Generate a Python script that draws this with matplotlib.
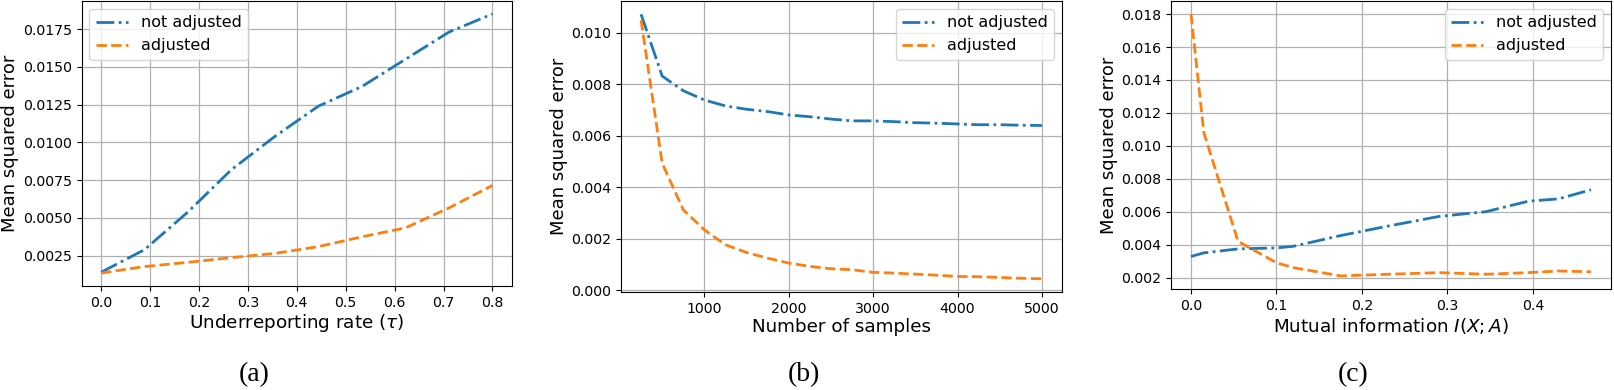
import numpy as np
import matplotlib
matplotlib.use("Agg")
import matplotlib.pyplot as plt

# ---- data ----
tau = [0.0, 0.0889, 0.1778, 0.2667, 0.3556, 0.4444, 0.5333, 0.6222, 0.7111, 0.8]
a_not_adj = [0.0014, 0.0029, 0.0054, 0.0082, 0.0104, 0.0124, 0.0137, 0.0155, 0.0173, 0.0185]
a_adj = [0.00135, 0.00178, 0.00206, 0.00237, 0.00265, 0.0031, 0.00375, 0.00434, 0.00566, 0.00715]

n_samples = [250, 500, 750, 1000, 1250, 1500, 1750, 2000, 2250, 2500,
             2750, 3000, 3250, 3500, 3750, 4000, 4250, 4500, 4750, 5000]
b_not_adj = [0.01072, 0.00832, 0.00775, 0.00739, 0.00716, 0.00703, 0.00694, 0.00681, 0.00674, 0.00665,
             0.00658, 0.00658, 0.00655, 0.00651, 0.00649, 0.00646, 0.00643, 0.00643, 0.00641, 0.0064]
b_adj = [0.01049, 0.00494, 0.00313, 0.00235, 0.00177, 0.00147, 0.00125, 0.00106, 0.00093, 0.00084,
         0.0008, 0.0007, 0.00067, 0.00063, 0.00059, 0.00054, 0.00053, 0.0005, 0.00047, 0.00045]

mutual_info = [0.0, 0.015, 0.055, 0.1, 0.12, 0.175, 0.23, 0.29, 0.345, 0.395, 0.43, 0.468]
c_not_adj = [0.00328, 0.0035, 0.00374, 0.0038, 0.0039, 0.00455, 0.00512, 0.00571, 0.006, 0.00664, 0.00678, 0.00733]
c_adj = [0.018, 0.0108, 0.0042, 0.0029, 0.0026, 0.0021, 0.0022, 0.0023, 0.0022, 0.0023, 0.0024, 0.00235]

labels = ["not adjusted", "adjusted"]
xlabels = [r"Underreporting rate ($\tau$)", "Number of samples", r"Mutual information $I(X;A)$"]
panel_labels = ["(a)", "(b)", "(c)"]

W, H = 1614, 390
fig = plt.figure(figsize=(W / 100, H / 100), dpi=100)

boxes = [(81.5, 512, 1, 286), (621, 1062, 1, 292), (1171, 1611, 1, 289)]
label_x = [254, 804, 1353]
legend_loc = ["upper left", "upper right", "upper right"]
datasets = [(tau, a_not_adj, a_adj), (n_samples, b_not_adj, b_adj), (mutual_info, c_not_adj, c_adj)]

for i, ((l, r, t, b), (x, y1, y2)) in enumerate(zip(boxes, datasets)):
    ax = fig.add_axes([l / W, 1 - b / H, (r - l) / W, (b - t) / H])
    ax.plot(x, y1, linestyle="-.", color="#1f77b4", lw=2, label=labels[0])
    ax.plot(x, y2, linestyle="--", color="#ff7f0e", lw=2, label=labels[1])
    ax.grid(True, color="#b0b0b0", lw=0.9)
    ax.tick_params(labelsize=10.2)
    ax.set_xlabel(xlabels[i], fontsize=13.2, labelpad=2)
    ax.set_ylabel("Mean squared error", fontsize=13.0, labelpad=2.5)
    ax.legend(loc=legend_loc[i], fontsize=11.5)
    if i == 0:
        ax.set_xticks([0.0, 0.1, 0.2, 0.3, 0.4, 0.5, 0.6, 0.7, 0.8])
    fig.text(label_x[i] / W, 1 - 375 / H, panel_labels[i], ha="center", va="center",
             fontsize=20, family="Liberation Serif")

fig.savefig("out.png", dpi=100)
